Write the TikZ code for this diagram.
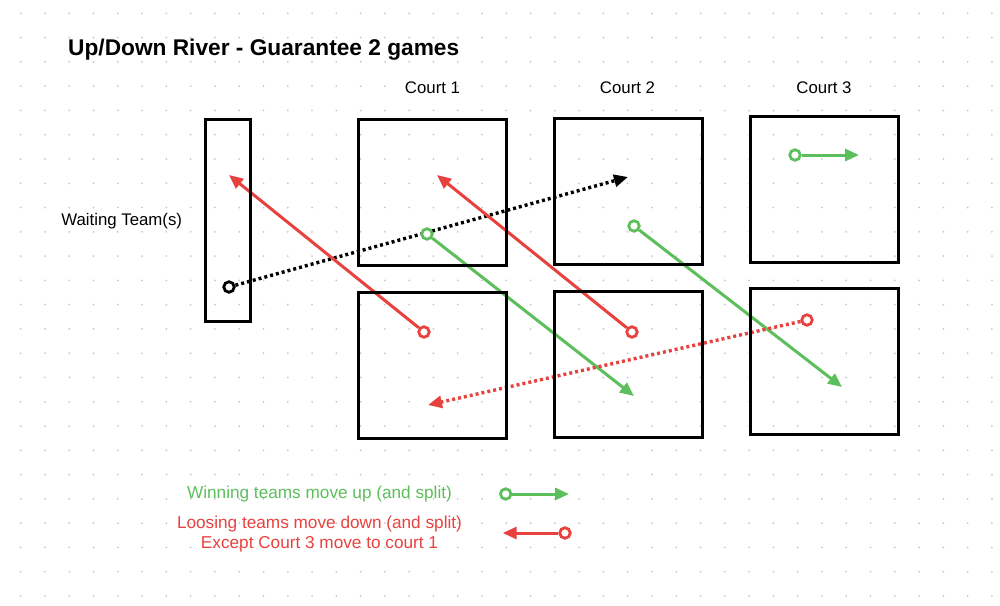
\documentclass[tikz,border=0pt]{standalone}
\usepackage{fontspec}
\setmainfont{Liberation Sans}
\usetikzlibrary{arrows.meta}
\definecolor{win}{HTML}{5CBF5C}
\definecolor{lose}{HTML}{E8423F}
\definecolor{griddot}{HTML}{C8C8C8}
\pgfdeclarelayer{back}
\pgfsetlayers{back,main}

\begin{document}
\begin{tikzpicture}[x=1pt,y=-1pt,
  court/.style={draw,rectangle,line width=3pt,inner sep=0pt,minimum width=148pt,minimum height=146pt},
  team/.style={draw,circle,line width=2.8pt,fill=white,inner sep=0pt,minimum size=10.5pt},
  move/.style={line width=3pt,-{Triangle[length=14pt,width=12pt]}},
  jump/.style={move,line width=3.4pt,dash pattern=on 3pt off 3pt},
  courttext/.style={font=\fontsize{16.8}{20}\selectfont},
  legendtext/.style={font=\fontsize{17.2}{20}\selectfont,align=center}]
  \useasboundingbox (0,0) rectangle (1000,605);

  % dotted canvas
  \begin{pgfonlayer}{back}
    \fill[white] (0,0) rectangle (1000,605);
    \foreach \i in {0,...,40} {
      \foreach \j in {0,...,24} {
        \fill[griddot] (20.7+24.28*\i,13.3+24.28*\j) circle (1pt);
      }
    }
  \end{pgfonlayer}

  \node[font=\fontsize{22.7}{26}\bfseries\selectfont,anchor=base west,inner sep=0pt] (title) at (68,55) {Up/Down River - Guarantee 2 games};

  % courts
  \node[court,minimum width=45pt,minimum height=202pt] (wait) at (227.5,220) {};
  \node[court] (c1top) at (432,192.5) {};
  \node[court] (c1bot) at (432,365) {};
  \node[court] (c2top) at (628,191.5) {};
  \node[court] (c2bot) at (628,364.5) {};
  \node[court] (c3top) at (824,189) {};
  \node[court] (c3bot) at (824,361.5) {};

  \node[courttext] (c1lbl) at (432.5,87.5) {Court 1};
  \node[courttext] (c2lbl) at (627.5,87.5) {Court 2};
  \node[courttext] (c3lbl) at (824,87.5) {Court 3};
  \node[courttext] (waitlbl) at (121.7,221) {Waiting Team(s)};

  % teams
  \node[team,draw=black] (k1) at (229,287) {};
  \node[team,draw=win] (w1) at (427,234) {};
  \node[team,draw=win] (w2) at (634,226) {};
  \node[team,draw=win] (w3) at (795,155) {};
  \node[team,draw=lose] (l1) at (424,332) {};
  \node[team,draw=lose] (l2) at (632,332) {};
  \node[team,draw=lose] (l3) at (807,320) {};

  \coordinate (k1t) at (628,177);
  \coordinate (w1t) at (634,396);
  \coordinate (w2t) at (842,387);
  \coordinate (w3t) at (859,155);
  \coordinate (l1t) at (229,175);
  \coordinate (l2t) at (437,175);
  \coordinate (l3t) at (428,405);

  \begin{pgfonlayer}{back}
    \draw[jump,black] (k1) -- (k1t);
    \draw[move,win] (w1) -- (w1t);
    \draw[move,win] (w2) -- (w2t);
    \draw[move,win] (w3) -- (w3t);
    \draw[move,lose] (l1) -- (l1t);
    \draw[move,lose] (l2) -- (l2t);
    \draw[jump,lose] (l3) -- (l3t);
  \end{pgfonlayer}

  % legend
  \node[legendtext,text=win] (winlbl) at (319.5,494) {Winning teams move up (and split)};
  \node[legendtext,text=lose] (loselbl) at (319.5,534) {Loosing teams move down (and split)\\Except Court 3 move to court 1};
  \node[team,draw=win] (legw) at (505.7,494) {};
  \coordinate (legwt) at (569,494);
  \draw[move,win] (legw) -- (legwt);
  \node[team,draw=lose] (legl) at (565,533) {};
  \coordinate (leglt) at (502.7,533);
  \draw[move,lose] (legl) -- (leglt);
\end{tikzpicture}
\end{document}
